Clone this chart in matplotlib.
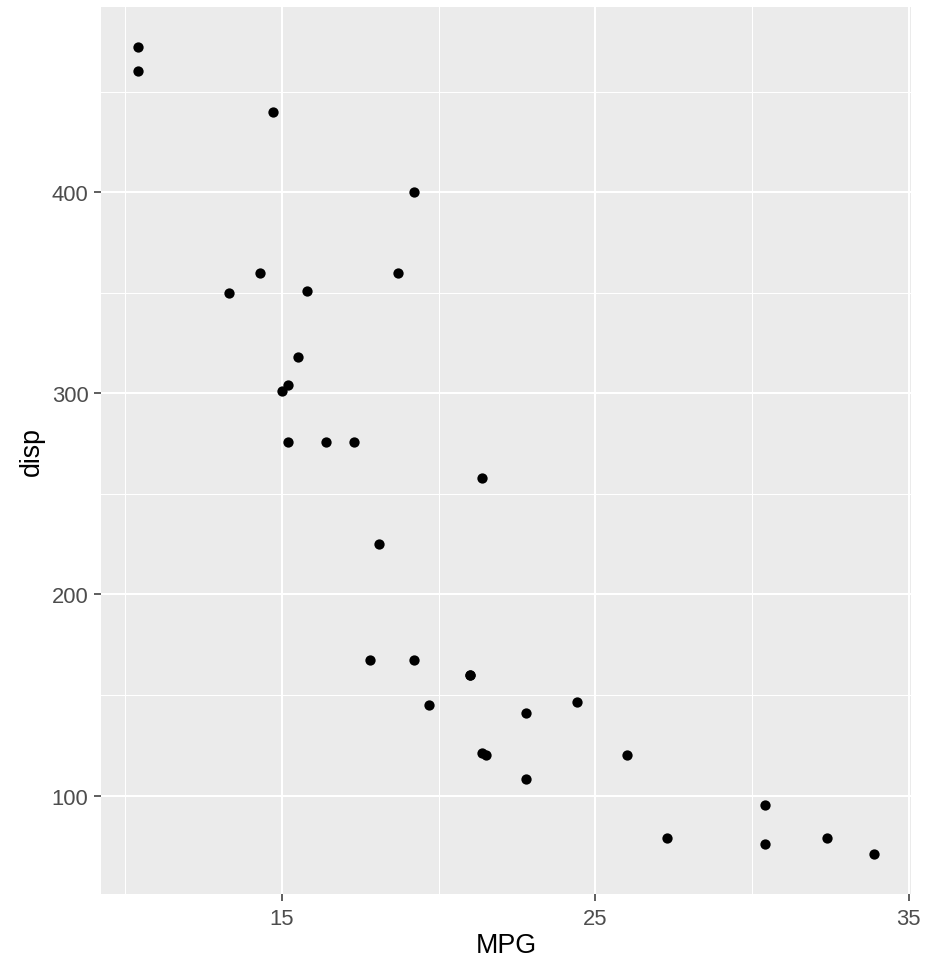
import matplotlib
matplotlib.use("Agg")
import matplotlib.pyplot as plt
from matplotlib.ticker import FixedLocator

plt.rcParams['font.family'] = ['Liberation Sans', 'DejaVu Sans']

mpg = [21.0, 21.0, 22.8, 21.4, 18.7, 18.1, 14.3, 24.4, 22.8, 19.2, 17.8, 16.4,
       17.3, 15.2, 10.4, 10.4, 14.7, 32.4, 30.4, 33.9, 21.5, 15.5, 15.2, 13.3,
       19.2, 27.3, 26.0, 30.4, 15.8, 19.7, 15.0, 21.4]
disp = [160, 160, 108, 258, 360, 225, 360, 146.7, 140.8, 167.6, 167.6, 275.8,
        275.8, 275.8, 472, 460, 440, 78.7, 75.7, 71.1, 120.1, 318, 304, 350,
        400, 79, 120.3, 95.1, 351, 145, 301, 121]
x_ticks = [15, 25, 35]
y_ticks = [100, 200, 300, 400]
x_minor = [10, 20, 30]
y_minor = [150, 250, 350, 450]

W, H = 928, 978
fig = plt.figure(figsize=(W / 100, H / 100), dpi=100)
ax = fig.add_axes([101 / W, 1 - 895 / H, (911 - 101) / W, (895 - 8) / H])
ax.set_facecolor('#EBEBEB')
for s in ax.spines.values():
    s.set_visible(False)

xr = max(mpg) - min(mpg)
yr = max(disp) - min(disp)
ax.set_xlim(min(mpg) - 0.05 * xr, max(mpg) + 0.05 * xr)
ax.set_ylim(min(disp) - 0.05 * yr, max(disp) + 0.05 * yr)

ax.xaxis.set_major_locator(FixedLocator(x_ticks))
ax.yaxis.set_major_locator(FixedLocator(y_ticks))
ax.xaxis.set_minor_locator(FixedLocator(x_minor))
ax.yaxis.set_minor_locator(FixedLocator(y_minor))
ax.grid(which='major', color='white', linewidth=1.5)
ax.grid(which='minor', color='white', linewidth=0.75)
ax.set_axisbelow(True)
ax.tick_params(which='major', length=5, width=1.1, color='#333333',
               labelcolor='#4D4D4D', labelsize=15.8)
ax.tick_params(axis='x', which='major', pad=5)
ax.tick_params(axis='y', which='major', pad=4)
ax.tick_params(which='minor', length=0)

ax.scatter(mpg, disp, s=55, color='black', zorder=3, linewidths=0)

ax.set_xlabel('MPG', fontsize=19.3, color='black', labelpad=2)
ax.set_ylabel('disp', fontsize=19.3, color='black', labelpad=5)

fig.savefig('out.png', dpi=100)
